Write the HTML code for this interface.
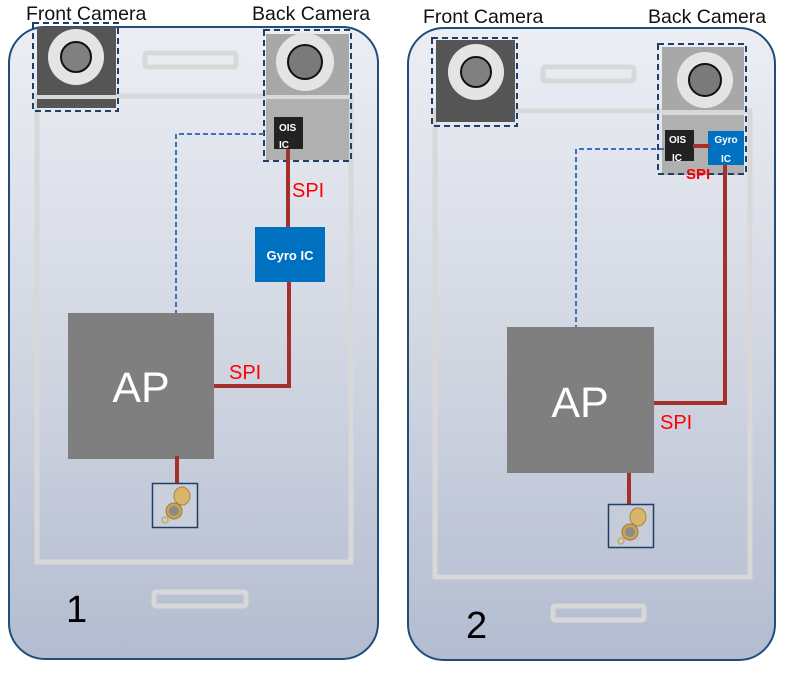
<!DOCTYPE html>
<html><head><meta charset="utf-8"><style>
html,body{margin:0;padding:0;background:#fff;width:785px;height:673px;overflow:hidden}
svg{display:block}
text{font-family:"Liberation Sans",sans-serif}
</style></head><body>
<svg width="785" height="673" viewBox="0 0 785 673" xmlns="http://www.w3.org/2000/svg">
<defs>
<linearGradient id="g" x1="0" y1="0" x2="0" y2="1">
<stop offset="0" stop-color="#eceef4"/><stop offset="0.5" stop-color="#d2d7e2"/><stop offset="1" stop-color="#b3bcd0"/>
</linearGradient>
<g id="compass">
<ellipse cx="27" cy="11" rx="8" ry="9" fill="#d9b56a" stroke="#a9853c"/>
<circle cx="19" cy="26" r="8" fill="#c8a458" stroke="#9c7b38"/>
<circle cx="19" cy="26" r="5" fill="#8e8a86"/>
<circle cx="10" cy="35" r="3" fill="none" stroke="#c9a85a" stroke-width="1.5"/>
</g>
</defs>

<!-- Phone 1 -->
<rect x="9" y="27" width="369" height="632" rx="36" fill="url(#g)" stroke="#1f4e79" stroke-width="2"/>
<rect x="37" y="96" width="314" height="466" fill="none" stroke="#d8d8d8" stroke-width="5"/>
<rect x="145" y="53" width="91" height="14" rx="2" fill="none" stroke="#d8d8d8" stroke-width="5"/>
<rect x="154" y="592" width="92" height="14" rx="2" fill="none" stroke="#d8d8d8" stroke-width="5"/>
<rect x="37" y="27" width="79" height="81" fill="#555"/>
<rect x="37" y="95" width="79" height="4" fill="#d8d8d8"/>
<circle cx="76" cy="57" r="28" fill="#e4e4e4"/>
<circle cx="76" cy="57" r="15" fill="#808080" stroke="#111" stroke-width="2"/>
<rect x="33" y="23" width="85" height="88" fill="none" stroke="#1f3f66" stroke-width="2" stroke-dasharray="6,4"/>
<rect x="266" y="34" width="83" height="126" fill="#b0b0b0"/>
<rect x="266" y="34" width="83" height="61" fill="#a8a8a8"/>
<rect x="266" y="95" width="83" height="4" fill="#d8d8d8"/>
<circle cx="305" cy="62" r="29" fill="#e4e4e4"/>
<circle cx="305" cy="62" r="17" fill="#7a7a7a" stroke="#111" stroke-width="2"/>
<rect x="264" y="30" width="87" height="131" fill="none" stroke="#1f3f66" stroke-width="2" stroke-dasharray="6,4"/>
<rect x="274" y="117" width="29" height="32" fill="#222"/>
<text x="279" y="131" font-size="10" font-weight="bold" fill="#fff">OIS</text>
<text x="279" y="148" font-size="10" font-weight="bold" fill="#fff">IC</text>
<polyline points="264,134 176,134 176,313" fill="none" stroke="#3e72b8" stroke-width="2" stroke-dasharray="5,3"/>
<line x1="288" y1="149" x2="288" y2="228" stroke="#a3302a" stroke-width="4"/>
<text x="292" y="197" font-size="20" fill="#ff0000">SPI</text>
<rect x="255" y="227" width="70" height="55" fill="#0070c0"/>
<text x="290" y="260" font-size="13" font-weight="bold" fill="#fff" text-anchor="middle">Gyro IC</text>
<polyline points="289,282 289,386 214,386" fill="none" stroke="#a3302a" stroke-width="4"/>
<text x="229" y="379" font-size="20" fill="#ff0000">SPI</text>
<rect x="68" y="313" width="146" height="146" fill="#7f7f7f"/>
<text x="141" y="402" font-size="43" fill="#fff" text-anchor="middle">AP</text>
<line x1="177" y1="456" x2="177" y2="483" stroke="#a3302a" stroke-width="4"/>
<rect x="152.5" y="483.5" width="45" height="44" fill="#c9d0dc" stroke="#1f3f66" stroke-width="1.5"/>
<use href="#compass" x="155" y="485"/>
<text x="66" y="622" font-size="38" fill="#000">1</text>
<text x="26" y="20" font-size="19.5" fill="#111">Front Camera</text>
<text x="252" y="20" font-size="19.5" fill="#111">Back Camera</text>

<!-- Phone 2 -->
<rect x="408" y="28" width="367" height="632" rx="36" fill="url(#g)" stroke="#1f4e79" stroke-width="2"/>
<rect x="435" y="111" width="315" height="466" fill="none" stroke="#d8d8d8" stroke-width="5"/>
<rect x="543" y="67" width="91" height="14" rx="2" fill="none" stroke="#d8d8d8" stroke-width="5"/>
<rect x="553" y="606" width="91" height="14" rx="2" fill="none" stroke="#d8d8d8" stroke-width="5"/>
<rect x="436" y="40" width="79" height="82" fill="#555"/>
<circle cx="476" cy="72" r="28" fill="#e4e4e4"/>
<circle cx="476" cy="72" r="15" fill="#808080" stroke="#111" stroke-width="2"/>
<rect x="432" y="38" width="85" height="88" fill="none" stroke="#1f3f66" stroke-width="2" stroke-dasharray="6,4"/>
<rect x="662" y="47" width="82" height="128" fill="#b0b0b0"/>
<rect x="662" y="47" width="82" height="63" fill="#a8a8a8"/>
<rect x="662" y="110" width="82" height="5" fill="#d8d8d8"/>
<circle cx="705" cy="80" r="28" fill="#e4e4e4"/>
<circle cx="705" cy="80" r="16" fill="#7a7a7a" stroke="#111" stroke-width="2"/>
<rect x="658" y="44" width="88" height="130" fill="none" stroke="#1f3f66" stroke-width="2" stroke-dasharray="6,4"/>
<rect x="665" y="130" width="29" height="31" fill="#222"/>
<text x="669" y="143" font-size="10" font-weight="bold" fill="#fff">OIS</text>
<text x="672" y="161" font-size="10" font-weight="bold" fill="#fff">IC</text>
<rect x="708" y="131" width="36" height="34" fill="#0070c0"/>
<text x="726" y="143" font-size="10" font-weight="bold" fill="#fff" text-anchor="middle">Gyro</text>
<text x="726" y="162" font-size="10" font-weight="bold" fill="#fff" text-anchor="middle">IC</text>
<line x1="693" y1="146" x2="710" y2="146" stroke="#a3302a" stroke-width="4"/>
<text x="686" y="179" font-size="15" font-weight="bold" fill="#ff0000">SPI</text>
<polyline points="664,149 576,149 576,327" fill="none" stroke="#3e72b8" stroke-width="2" stroke-dasharray="5,3"/>
<polyline points="725,165 725,403 654,403" fill="none" stroke="#a3302a" stroke-width="4"/>
<text x="660" y="429" font-size="20" fill="#ff0000">SPI</text>
<rect x="507" y="327" width="147" height="146" fill="#7f7f7f"/>
<text x="580" y="417" font-size="43" fill="#fff" text-anchor="middle">AP</text>
<line x1="629" y1="473" x2="629" y2="505" stroke="#a3302a" stroke-width="4"/>
<rect x="608.5" y="504.5" width="45" height="43" fill="#c6ccd9" stroke="#1f3f66" stroke-width="1.5"/>
<use href="#compass" x="611" y="506"/>
<text x="466" y="638" font-size="38" fill="#000">2</text>
<text x="423" y="23" font-size="19.5" fill="#111">Front Camera</text>
<text x="648" y="23" font-size="19.5" fill="#111">Back Camera</text>
</svg>
</body></html>
